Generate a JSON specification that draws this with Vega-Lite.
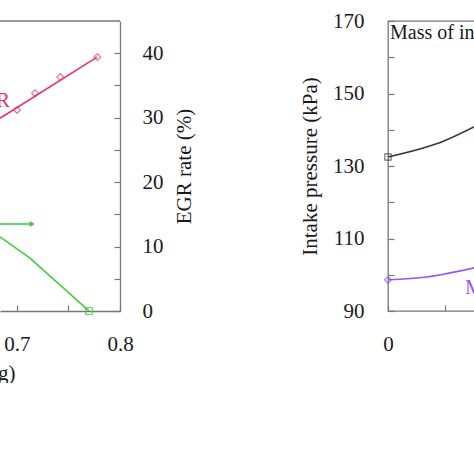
{
  "$schema": "https://vega.github.io/schema/vega-lite/v6.json",
  "background": "white",
  "padding": {"left": -184, "top": 9, "right": 0, "bottom": 0},
  "spacing": 104,
  "config": {
    "font": "Liberation Serif",
    "axis": {
      "grid": false,
      "labelFlush": false,
      "domainColor": "#777777",
      "domainWidth": 1.3,
      "tickColor": "#777777",
      "tickWidth": 1.2,
      "tickSize": -6,
      "labelFont": "Liberation Serif",
      "labelFontSize": 21,
      "labelColor": "#1a1a1a",
      "titleFont": "Liberation Serif",
      "titleFontSize": 21,
      "titleFontWeight": "normal",
      "titleColor": "#1a1a1a"
    },
    "text": {"font": "Liberation Serif"}
  },
  "hconcat": [
    {
      "width": 120,
      "height": 290,
      "view": {"stroke": null},
      "encoding": {
        "x": {
          "field": "fuel", "type": "quantitative",
          "scale": {"domain": [0.6835, 0.8], "nice": false, "zero": false},
          "axis": {
            "values": [0.7, 0.75, 0.8],
            "labelExpr": "abs(datum.value - 0.75) < 0.001 ? '' : format(datum.value, '.1f')",
            "labelPadding": 28,
            "title": "Injected fuel mass (mg)",
            "titleAlign": "right",
            "titleX": 15,
            "titleY": 51
          }
        },
        "y": {
          "field": "egr", "type": "quantitative",
          "scale": {"domain": [0, 45], "nice": false},
          "axis": {
            "orient": "right",
            "values": [0, 5, 10, 15, 20, 25, 30, 35, 40],
            "labelExpr": "datum.value % 10 == 0 ? datum.label : ''",
            "labelPadding": 28,
            "title": "EGR rate (%)",
            "titleAngle": 270,
            "titleBaseline": "top",
            "titlePadding": 10
          }
        }
      },
      "layer": [
        {
          "data": {"values": [{"fuel": 0.6835, "egr": 45}, {"fuel": 0.8, "egr": 45}]},
          "mark": {"type": "line", "color": "#777777", "strokeWidth": 1.3}
        },
        {
          "data": {"values": [{"fuel": 0.6835, "egr": 29.9}, {"fuel": 0.7777, "egr": 39.4}]},
          "mark": {"type": "line", "color": "#e3336a", "strokeWidth": 1.6, "clip": true}
        },
        {
          "data": {"values": [
            {"fuel": 0.700, "egr": 31.2},
            {"fuel": 0.7175, "egr": 33.8},
            {"fuel": 0.742, "egr": 36.3},
            {"fuel": 0.778, "egr": 39.4}
          ]},
          "mark": {"type": "point", "shape": "diamond", "filled": false, "color": "#e3336a", "size": 45, "strokeWidth": 1.2}
        },
        {
          "data": {"values": [
            {"fuel": 0.6835, "egr": 11.5},
            {"fuel": 0.7126, "egr": 8.2},
            {"fuel": 0.770, "egr": 0}
          ]},
          "mark": {"type": "line", "color": "#3dcc3d", "strokeWidth": 1.6, "clip": true}
        },
        {
          "data": {"values": [{"fuel": 0.770, "egr": 0}]},
          "mark": {"type": "point", "shape": "square", "filled": false, "color": "#3dcc3d", "size": 45, "strokeWidth": 1.4}
        },
        {
          "data": {"values": [{"fuel": 0.6835, "fuel_end": 0.7135, "egr": 13.5}]},
          "mark": {"type": "rule", "color": "#3dcc3d", "strokeWidth": 1.6},
          "encoding": {"x2": {"field": "fuel_end"}}
        },
        {
          "data": {"values": [{"fuel": 0.7148, "egr": 13.5}]},
          "mark": {"type": "point", "shape": "triangle-right", "filled": true, "color": "#3dcc3d", "size": 35, "opacity": 1}
        },
        {
          "data": {"values": [{"fuel": 0.6932, "egr": 31.6, "label": "EGR"}]},
          "mark": {"type": "text", "align": "right", "baseline": "alphabetic", "fontSize": 21, "color": "#e3336a", "clip": true},
          "encoding": {"text": {"field": "label"}}
        }
      ]
    },
    {
      "width": 300,
      "height": 290,
      "view": {"stroke": "#777777", "strokeWidth": 1.3},
      "encoding": {
        "x": {
          "field": "load", "type": "quantitative",
          "scale": {"domain": [0, 5.26], "nice": false},
          "axis": {
            "values": [0, 1, 2, 3, 4, 5],
            "labelExpr": "datum.value % 2 == 0 ? datum.label : ''",
            "labelPadding": 28,
            "domain": false,
            "title": null
          }
        },
        "y": {
          "field": "pressure", "type": "quantitative",
          "scale": {"domain": [90, 170], "nice": false, "zero": false},
          "axis": {
            "values": [90, 100, 110, 120, 130, 140, 150, 160, 170],
            "labelExpr": "datum.value % 20 == 10 ? datum.label : ''",
            "labelPadding": 30,
            "domain": false,
            "title": "Intake pressure (kPa)",
            "titlePadding": 12
          }
        }
      },
      "layer": [
        {
          "data": {"values": [
            {"load": 0, "pressure": 132.5},
            {"load": 0.98, "pressure": 136.9},
            {"load": 1.56, "pressure": 141.2}
          ]},
          "mark": {"type": "line", "color": "#2f3d38", "strokeWidth": 1.6, "interpolate": "monotone"}
        },
        {
          "data": {"values": [{"load": 0, "pressure": 132.5}]},
          "mark": {"type": "point", "shape": "square", "filled": false, "color": "#2f3d38", "size": 40, "strokeWidth": 1.2}
        },
        {
          "data": {"values": [
            {"load": 0, "pressure": 98.6},
            {"load": 0.68, "pressure": 99.4},
            {"load": 1.56, "pressure": 102.1}
          ]},
          "mark": {"type": "line", "color": "#9a55ee", "strokeWidth": 1.6, "interpolate": "monotone"}
        },
        {
          "data": {"values": [{"load": 0, "pressure": 98.6}]},
          "mark": {"type": "point", "shape": "diamond", "filled": false, "color": "#9a55ee", "size": 45, "strokeWidth": 1.4}
        },
        {
          "data": {"values": [{"load": 1.35, "pressure": 96.3, "label": "M"}]},
          "mark": {"type": "text", "align": "left", "baseline": "middle", "fontSize": 21, "color": "#9a55ee"},
          "encoding": {"text": {"field": "label"}}
        },
        {
          "data": {"values": [{"load": 0.035, "pressure": 166.7, "label": "Mass of intake air"}]},
          "mark": {"type": "text", "align": "left", "baseline": "middle", "fontSize": 20, "color": "#1a1a1a"},
          "encoding": {"text": {"field": "label"}}
        }
      ]
    }
  ]
}
